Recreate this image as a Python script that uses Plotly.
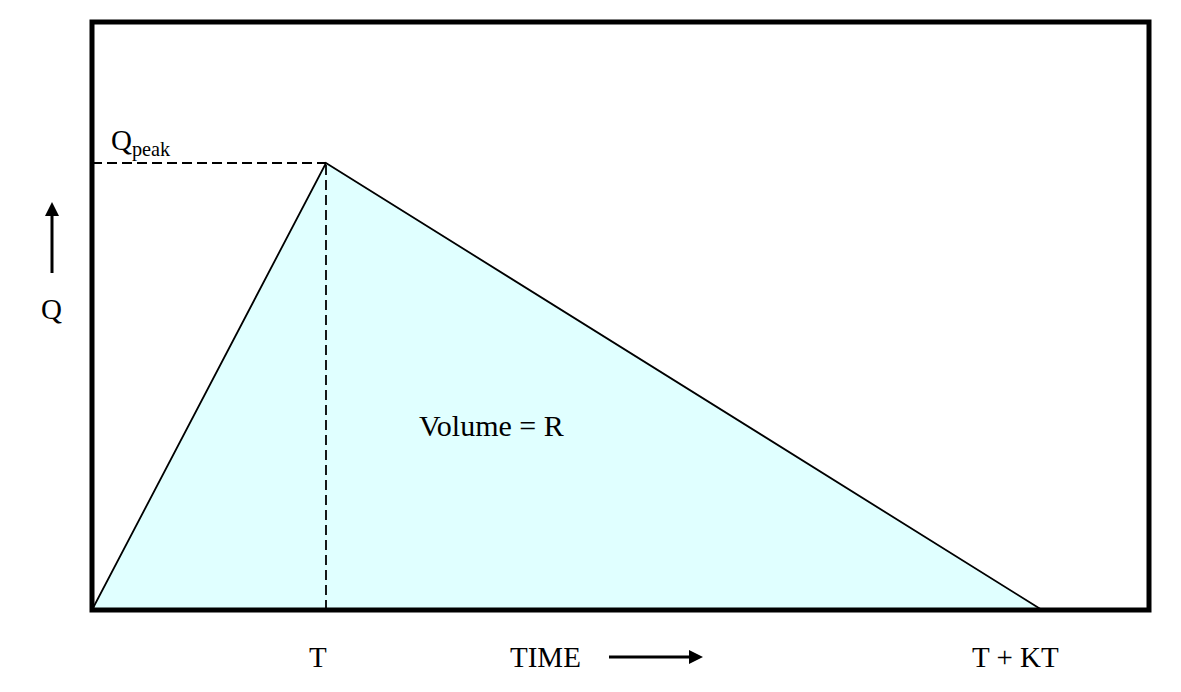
import plotly.graph_objects as go

# Data (time in units of T, discharge in units of Qpeak)
time_pts = [0.0, 1.0, 4.06]
q_pts = [0.0, 1.0, 0.0]
peak_time = 1.0
peak_q = 1.0

FONT = "Liberation Serif, Times New Roman, serif"
OFF = 8  # browser body margin
W, H = 1165, 676
L, T = 84, 14
PW = 1149 - OFF - L
PH = 610 - OFF - T
R = W - L - PW
B = H - T - PH

def px(x):
    return (x - OFF - L) / PW

def py(y):
    return (610 - y) / PH

fig = go.Figure()
fig.add_trace(go.Scatter(x=time_pts, y=q_pts, mode="lines", fill="toself",
                         fillcolor="#E0FFFF", line=dict(color="black", width=1.8),
                         hoverinfo="skip", showlegend=False))
fig.add_trace(go.Scatter(x=[0, peak_time], y=[peak_q, peak_q], mode="lines",
                         line=dict(color="black", width=1.8, dash="10px,5px"),
                         hoverinfo="skip", showlegend=False))
fig.add_trace(go.Scatter(x=[peak_time, peak_time], y=[0, peak_q], mode="lines",
                         line=dict(color="black", width=1.8, dash="10px,5px"),
                         hoverinfo="skip", showlegend=False))

fig.update_xaxes(range=[0, PW / 234.0], visible=False, fixedrange=True)
fig.update_yaxes(range=[0, PH / 447.0], visible=False, fixedrange=True)

fig.add_shape(type="rect", xref="paper", yref="paper", x0=0, y0=0, x1=1, y1=1,
              line=dict(color="black", width=5), layer="above")

# arrows drawn as shapes
fig.add_shape(type="line", xref="paper", yref="paper",
              x0=px(52), x1=px(52), y0=py(273), y1=py(214),
              line=dict(color="black", width=3))
fig.add_shape(type="path", xref="paper", yref="paper",
              path=f"M {px(52)} {py(202)} L {px(45)} {py(216)} L {px(59)} {py(216)} Z",
              fillcolor="black", line=dict(color="black", width=0))
fig.add_shape(type="line", xref="paper", yref="paper",
              x0=px(609), x1=px(691), y0=py(657), y1=py(657),
              line=dict(color="black", width=3))
fig.add_shape(type="path", xref="paper", yref="paper",
              path=f"M {px(703)} {py(657)} L {px(689)} {py(650)} L {px(689)} {py(664)} Z",
              fillcolor="black", line=dict(color="black", width=0))

ann = []
def text(s, x, y, size=29, xanchor="center"):
    ann.append(dict(text=s, x=px(x), y=py(y), xref="paper", yref="paper",
                    xanchor=xanchor, yanchor="middle", showarrow=False,
                    font=dict(family=FONT, size=size, color="black")))

text("Q<sub>peak</sub>", 109, 143, xanchor="left")
text("Q", 51, 309)
text("T", 318, 657)
text("TIME", 545, 657)
text("T + KT", 1015, 657)
text("Volume = R", 491, 425, size=30)

fig.update_layout(width=W, height=H, margin=dict(l=L, r=R, t=T, b=B),
                  plot_bgcolor="white", paper_bgcolor="white",
                  annotations=ann, showlegend=False)

fig.write_html("out.html")
